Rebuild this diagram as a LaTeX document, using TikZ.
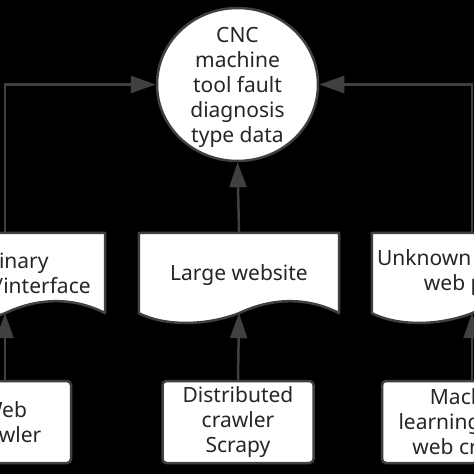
\documentclass[tikz,border=0pt]{standalone}
\usepackage{fontspec}
\setmainfont{Noto Sans}
\usetikzlibrary{arrows.meta,shapes.geometric,backgrounds}
\definecolor{txt}{HTML}{262626}
\definecolor{edge}{HTML}{404040}

\begin{document}
\begin{tikzpicture}[
  x=1pt, y=-1pt,
  >={Triangle[length=25pt,width=17pt]},
  words/.style={align=center, text=txt, font=\fontsize{21}{25}\selectfont},
  target/.style={ellipse, draw=edge, fill=white, line width=2.5pt, minimum width=161pt, minimum height=153pt, inner sep=0pt},
  source/.style={words, minimum width=200pt, minimum height=80pt, inner sep=0pt},
  tool/.style={words, draw=edge, fill=white, line width=2.5pt, rounded corners=4pt, minimum height=82pt, inner sep=0pt},
  docline/.style={draw=edge, fill=white, line width=2.5pt, line join=round},
  arr/.style={->, draw=edge, line width=2.5pt},
]
\useasboundingbox (0,0) rectangle (474,474);

\node[target, label={[words, yshift=-2.5pt]center:{CNC\\machine\\tool fault\\diagnosis\\type data}}] (cnc) at (237.5,84.5) {};

\node[source] (ldoc) at (5,273) {Ordinary\\website/interface};
\node[source, text depth=0pt] (mdoc) at (239,273) {Large website};
\node[source] (rdoc) at (472,273) {Unknown structure\\web page};

\node[tool, minimum width=132pt] (lbox) at (5,422) {Web\\crawler};
\node[tool, minimum width=151pt] (mbox) at (238,422) {Distributed\\crawler\\Scrapy};
\node[tool, minimum width=180pt] (rbox) at (472,422) {Machine\\learning based\\web crawler};

\draw[arr] (ldoc.north) |- (cnc.west);
\draw[arr] (mdoc.north) -- (cnc.south);
\draw[arr] (rdoc.north) |- (cnc.east);
\foreach \b/\d in {lbox/ldoc,mbox/mdoc,rbox/rdoc}
  \draw[arr] (\b.north) -- (\d.south);

% page and document outlines
\begin{pgfonlayer}{background}
\fill[black] (0,0) rectangle (474,474);
\foreach \d in {ldoc,mdoc,rdoc}
  \path[docline] (\d.north west) -- (\d.north east) -- (\d.south east)
    .. controls +(-29,-15) and +(36,-17) .. (\d.south)
    .. controls +(-34,13) and +(26,13) .. (\d.south west) -- cycle;
\end{pgfonlayer}

\end{tikzpicture}
\end{document}
